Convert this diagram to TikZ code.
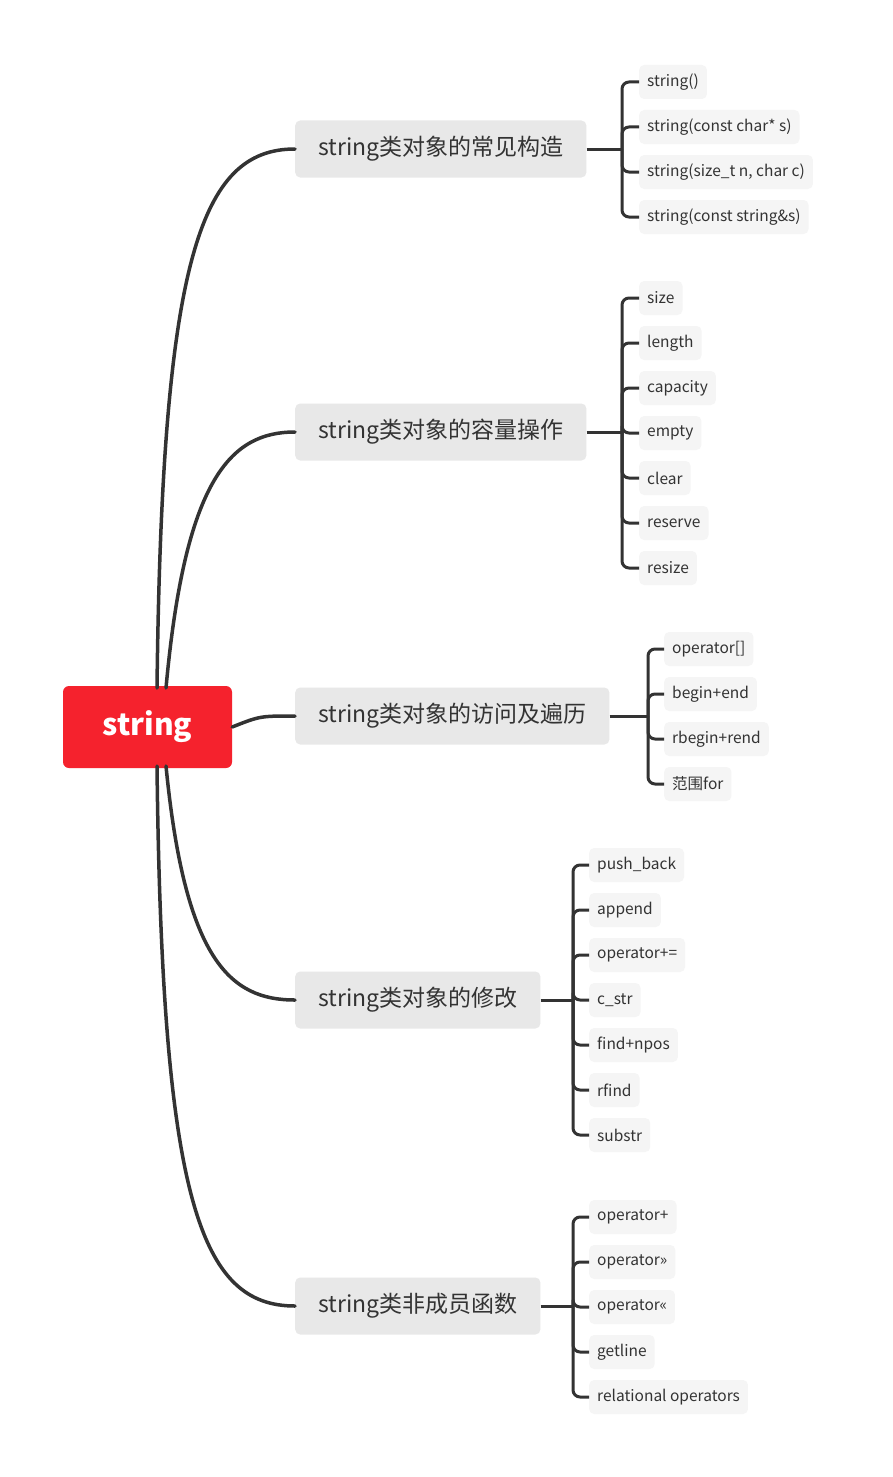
\documentclass[tikz,border=0pt]{standalone}
\usepackage{fontspec}
\setmainfont{Noto Sans CJK SC}
\begin{document}
\begin{tikzpicture}[x=1pt,y=-1pt,
  line/.style={draw=black!80,line width=3.5pt,line cap=round},
  br/.style={draw=black!80,line width=3pt,rounded corners=7pt},
  branch/.style={anchor=west,fill=black!9,rounded corners=5pt,minimum height=57pt,inner xsep=23pt,font=\fontsize{23}{26}\selectfont,text=black!80},
  leaf/.style={anchor=west,fill=black!4,rounded corners=5pt,minimum height=34pt,inner xsep=8pt,font=\fontsize{15.5}{18}\selectfont,text=black!80}]
\useasboundingbox (0,0) rectangle (892,1477);
\fill[white] (0,0) rectangle (892,1477);
\node[fill={rgb,255:red,245;green,34;blue,45},rounded corners=6pt,minimum width=169pt,minimum height=82pt,text=white,font=\fontsize{30}{34}\selectfont\bfseries] (root) at (147.5,727) {string};
\node[branch] (b1) at (295,149) {string类对象的常见构造};
\node[branch] (b2) at (295,432) {string类对象的容量操作};
\node[branch] (b3) at (295,716) {string类对象的访问及遍历};
\node[branch] (b4) at (295,1000) {string类对象的修改};
\node[branch] (b5) at (295,1306) {string类非成员函数};
\coordinate (r1) at (157,688);
\coordinate (r2) at (166,688);
\coordinate (r4) at (166,766);
\coordinate (r5) at (157,766);
\draw[line] (r1) .. controls (162,260) and (200,149) .. (b1.west);
\draw[line] (r2) .. controls (185,480) and (230,432) .. (b2.west);
\draw[line] (root.east) .. controls (260,716) .. (b3.west);
\draw[line] (r4) .. controls (185,960) and (230,1000) .. (b4.west);
\draw[line] (r5) .. controls (162,1200) and (200,1306) .. (b5.west);
\foreach \n/\y/\t in {a/82/{string()},b/127/{string(const char* s)},c/172/{string(size\_t n, char c)},d/217/{string(const string\&s)}}{
  \node[leaf] (l1\n) at (639,\y) {\t};
  \draw[br] (622,149) |- (l1\n.west);}
\draw[br] (b1.east) -- (622,149);
\foreach \n/\y/\t in {a/298/size,b/343/length,c/388/capacity,d/433/empty,e/478/clear,f/523/reserve,g/568/resize}{
  \node[leaf] (l2\n) at (639,\y) {\t};
  \draw[br] (622,432) |- (l2\n.west);}
\draw[br] (b2.east) -- (622,432);
\foreach \n/\y/\t in {a/649/{operator[]},b/694/{begin+end},c/739/{rbegin+rend},d/784/{范围for}}{
  \node[leaf] (l3\n) at (664,\y) {\t};
  \draw[br] (648,716) |- (l3\n.west);}
\draw[br] (b3.east) -- (648,716);
\foreach \n/\y/\t in {a/865/{push\_back},b/910/append,c/955/{operator+=},d/1000/{c\_str},e/1045/{find+npos},f/1090/rfind,g/1135/substr}{
  \node[leaf] (l4\n) at (589,\y) {\t};
  \draw[br] (573,1000) |- (l4\n.west);}
\draw[br] (b4.east) -- (573,1000);
\foreach \n/\y/\t in {a/1217/{operator+},b/1262/{operator>>},c/1307/{operator<<},d/1352/getline,e/1397/{relational operators}}{
  \node[leaf] (l5\n) at (589,\y) {\t};
  \draw[br] (573,1306) |- (l5\n.west);}
\draw[br] (b5.east) -- (573,1306);
\end{tikzpicture}
\end{document}
